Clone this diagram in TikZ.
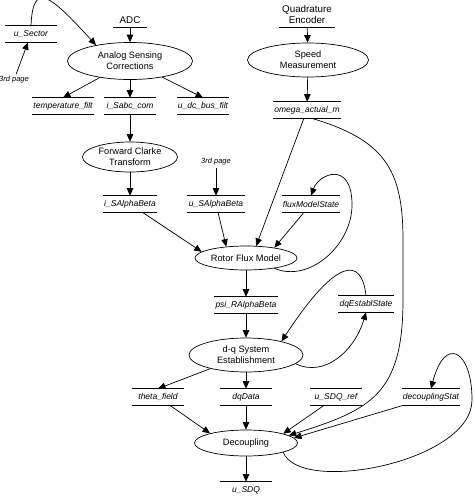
\documentclass[tikz,border=0pt]{standalone}
\usepackage{fontspec}
\setmainfont{Liberation Sans}
\usepackage{tikz}
\usetikzlibrary{shapes.geometric,arrows.meta}
\tikzset{
    process/.style={
        draw,ellipse,inner sep=0pt,align=center,
        font=\fontsize{9.2}{10.8}\selectfont
    },
    store/.style={
        inner xsep=1pt,inner ysep=0pt,
        minimum width=52pt,minimum height=16pt,
        font=\fontsize{8.5}{9.5}\selectfont\itshape
    },
    source/.style={align=center,inner ysep=3pt,font=\fontsize{9.8}{11}\selectfont},
    pageref/.style={inner sep=2pt,font=\fontsize{7.5}{8.5}\selectfont\itshape},
    >={Triangle[length=7.5pt,width=6.5pt]}
}
\begin{document}
\begin{tikzpicture}[x=1pt,y=-1pt,line width=0.7pt]
\useasboundingbox (0,0) rectangle (474,498);
% sources
\node[source,anchor=south,minimum width=33pt] (adc) at (130,27) {ADC};
\node[source,anchor=south,minimum width=37pt] (qe) at (307,27) {Quadrature\\Encoder};
\draw (adc.south west) -- (adc.south east);
\draw (qe.south west) -- (qe.south east);
% processes
\node[process,minimum width=125pt,minimum height=37pt] (asc) at (130,61) {Analog Sensing\\Corrections};
\node[process,minimum width=121pt,minimum height=34pt] (spd) at (308,60) {Speed\\Measurement};
\node[process,minimum width=95pt,minimum height=30pt] (fct) at (130,157) {Forward Clarke\\Transform};
\node[process,minimum width=102pt,minimum height=24pt] (rfm) at (246,258) {Rotor Flux Model};
\node[process,minimum width=114pt,minimum height=34pt] (dqs) at (246,355) {d-q System\\Establishment};
\node[process,minimum width=103pt,minimum height=26pt] (dec) at (246,443) {Decoupling};
% data stores
\node[store] (usec) at (31,34) {u\_Sector};
\node[store] (tf) at (63,106) {temperature\_filt};
\node[store] (isabc) at (130,106) {i\_Sabc\_com};
\node[store] (udc) at (203,106) {u\_dc\_bus\_filt};
\node[store] (om) at (307,110) {omega\_actual\_m};
\node[store] (isab) at (130,204) {i\_SAlphaBeta};
\node[store] (usab) at (216,204) {u\_SAlphaBeta};
\node[store] (fms) at (311,204) {fluxModelState};
\node[store] (psi) at (246,305) {psi\_RAlphaBeta};
\node[store] (des) at (366,304) {dqEstablState};
\node[store] (thf) at (158,397) {theta\_field};
\node[store] (dqd) at (246,397) {dqData};
\node[store] (usr) at (336,397) {u\_SDQ\_ref};
\node[store] (ds) at (431,397) {decouplingStat};
\node[store] (usdq) at (246,490) {u\_SDQ};
\foreach \n in {usec,tf,isabc,udc,om,isab,usab,fms,psi,des,thf,dqd,usr,ds,usdq}
    \draw (\n.north west) -- (\n.north east) (\n.south west) -- (\n.south east);
% page references
\node[pageref] (pg1) at (14,80) {3rd page};
\node[pageref] (pg2) at (216,162) {3rd page};
% flows
\foreach \a/\b in {adc/asc,qe/spd,asc/isabc,isabc/fct,fct/isab,spd/om,pg1/usec,pg2/usab,
                   rfm/psi,psi/dqs,dqs/dqd,dqd/dec,dec/usdq}
    \draw[->] (\a) -- (\b);
\draw[->] (asc) -- (tf.north);
\draw[->] (asc) -- (udc.north);
\draw[->] (dqs) -- (thf.north);
\foreach \a/\b in {isab/172,usab/150,om/50,fms/20}
    \draw[->] (\a) -- (rfm.\b);
\foreach \a/\b in {thf/165,usr/14,ds/6}
    \draw[->] (\a) -- (dec.\b);
\draw[->] (usec.north) .. controls (33,-20) and (50,-5) .. (asc.155);
% loops
\draw[->] (rfm.-20) .. controls +(35,15) and +(0,40) .. (352,205)
    .. controls +(0,-45) and +(8,-22) .. (fms.north);
\draw[->] (dqs.-10) .. controls (325,378) and (355,350) .. (des.south);
\draw[->] (des.north) .. controls (362,258) and (338,255) .. (dqs.21);
\draw[->] (dec.-14) .. controls (300,495) and (472,462) .. (472,400)
    .. controls (472,350) and (445,335) .. (ds.north);
\draw[->] (om.-60) .. controls (385,140) and (403,170) .. (403,240) -- (403,300)
    .. controls (403,395) and (370,410) .. (dec.10);
\end{tikzpicture}
\end{document}
